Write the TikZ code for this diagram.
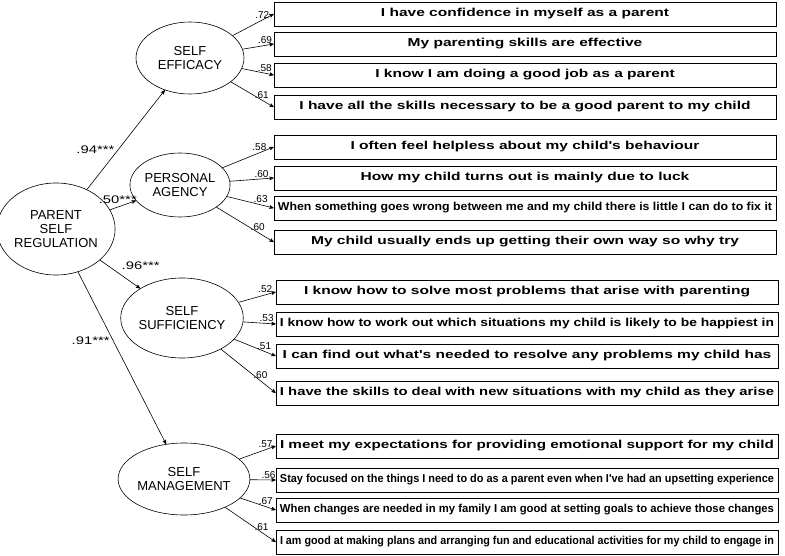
\documentclass[tikz,border=0pt]{standalone}
\usepackage{fontspec}
\usepackage{graphicx}
\setmainfont{Liberation Sans}
\newfontfamily\itemfont{Liberation Sans}[FakeStretch=1.35]
\usetikzlibrary{arrows, shapes.geometric}

\newsavebox\itembox
\newcommand\fititem[1]{\sbox\itembox{#1}%
  \ifdim\wd\itembox>494pt\resizebox{494pt}{\height}{\usebox\itembox}\else\usebox\itembox\fi}

\begin{document}
\begin{tikzpicture}[
            x = 1pt, y = -1pt,
            > = stealth', % arrow head style
            semithick, % line style
            latent/.style = {draw = black, ellipse, inner sep = 0pt, align = center, font = \fontsize{13}{14}\selectfont},
            item/.style = {draw = black, rectangle, minimum width = 502pt, minimum height = 24pt, inner xsep = 2pt, font = \itemfont\fontsize{11.5}{12}\selectfont\bfseries},
            load/.style = {pos = 0.72, above, font = \fontsize{10}{11}\selectfont, inner sep = 1.5pt},
            path/.style = {font = \itemfont\fontsize{11}{12}\selectfont}
        ]
        \useasboundingbox (0,0) rectangle (785,556);

        \node[latent, minimum width = 108pt, minimum height = 92pt] (psr) at (56,229) {PARENT\\SELF\\REGULATION};
        \node[latent, minimum width = 108pt, minimum height = 72pt] (se) at (190,58) {SELF\\EFFICACY};
        \node[latent, minimum width = 94pt, minimum height = 64pt] (pa) at (180,185) {PERSONAL\\AGENCY};
        \node[latent, minimum width = 94pt, minimum height = 80pt] (ss) at (182,318) {SELF\\SUFFICIENCY};
        \node[latent, minimum width = 96pt, minimum height = 72pt] (sm) at (184,479) {SELF\\MANAGEMENT};

        % self efficacy
        \node[item] (se1) at (525,14) {\fititem{I have confidence in myself as a parent}};
        \node[item] (se2) at (525,44) {\fititem{My parenting skills are effective}};
        \node[item] (se3) at (525,75) {\fititem{I know I am doing a good job as a parent}};
        \node[item] (se4) at (525,107) {\fititem{I have all the skills necessary to be a good parent to my child}};
        % personal agency
        \node[item] (pa1) at (525,147) {\fititem{I often feel helpless about my child's behaviour}};
        \node[item] (pa2) at (525,178) {\fititem{How my child turns out is mainly due to luck}};
        \node[item] (pa3) at (525,208) {\fititem{When something goes wrong between me and my child there is little I can do to fix it}};
        \node[item] (pa4) at (525,242) {\fititem{My child usually ends up getting their own way so why try}};
        % self sufficiency
        \node[item] (ss1) at (527,292) {\fititem{I know how to solve most problems that arise with parenting}};
        \node[item] (ss2) at (527,324) {\fititem{I know how to work out which situations my child is likely to be happiest in}};
        \node[item] (ss3) at (527,356) {\fititem{I can find out what's needed to resolve any problems my child has}};
        \node[item] (ss4) at (527,393) {\fititem{I have the skills to deal with new situations with my child as they arise}};
        % self management
        \node[item] (sm1) at (527,446) {\fititem{I meet my expectations for providing emotional support for my child}};
        \node[item] (sm2) at (527,480) {\fititem{Stay focused on the things I need to do as a parent even when I've had an upsetting experience}};
        \node[item] (sm3) at (527,510) {\fititem{When changes are needed in my family I am good at setting goals to achieve those changes}};
        \node[item] (sm4) at (527,542) {\fititem{I am good at making plans and arranging fun and educational activities for my child to engage in}};

        \path[->] (psr) edge node[path, left, pos = 0.4] {.94***} (se);
        \path[->] (psr) edge node[path, above, pos = 0.3] {.50***} (pa);
        \path[->] (psr) edge node[path, above right, pos = 0.45] {.96***} (ss);
        \path[->] (psr) edge node[path, left, pos = 0.4] {.91***} (sm);

        \path[->] (se) edge node[load] {.72} (se1.west);
        \path[->] (se) edge node[load] {.69} (se2.west);
        \path[->] (se) edge node[load] {.58} (se3.west);
        \path[->] (se) edge node[load] {.61} (se4.west);
        \path[->] (pa) edge node[load] {.58} (pa1.west);
        \path[->] (pa) edge node[load] {.60} (pa2.west);
        \path[->] (pa) edge node[load] {.63} (pa3.west);
        \path[->] (pa) edge node[load] {.60} (pa4.west);
        \path[->] (ss) edge node[load] {.52} (ss1.west);
        \path[->] (ss) edge node[load] {.53} (ss2.west);
        \path[->] (ss) edge node[load] {.51} (ss3.west);
        \path[->] (ss) edge node[load] {.60} (ss4.west);
        \path[->] (sm) edge node[load] {.57} (sm1.west);
        \path[->] (sm) edge node[load] {.56} (sm2.west);
        \path[->] (sm) edge node[load] {.67} (sm3.west);
        \path[->] (sm) edge node[load] {.61} (sm4.west);
    \end{tikzpicture}
\end{document}
